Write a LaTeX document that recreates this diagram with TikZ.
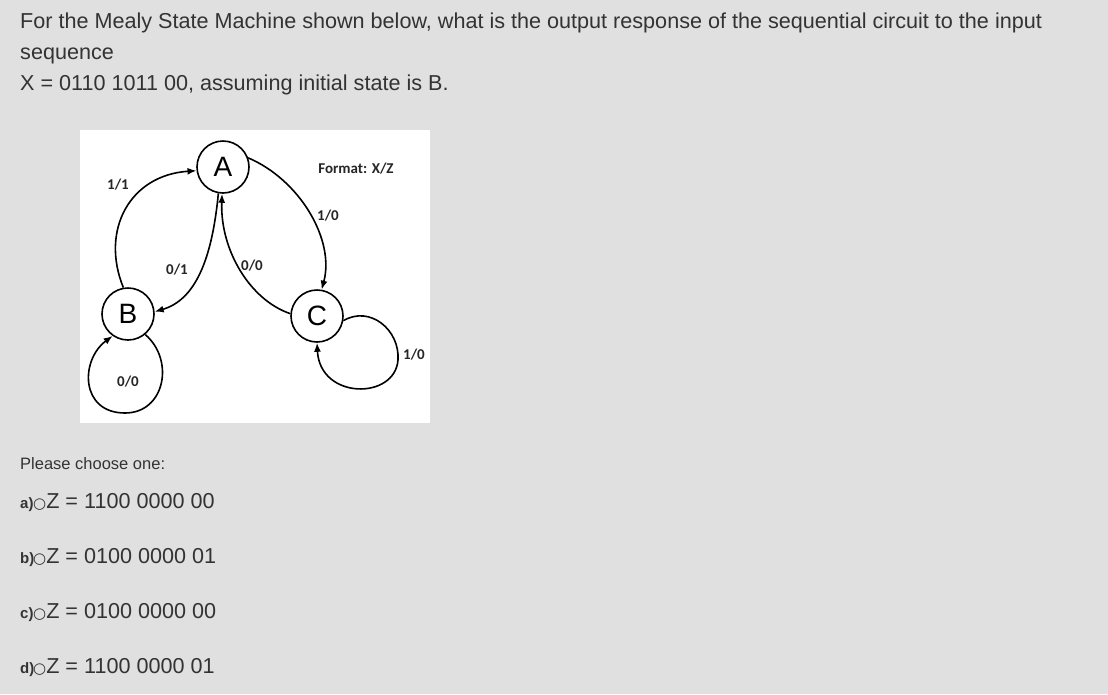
\documentclass[tikz,border=0pt]{standalone}
\usepackage{fontspec}
\setmainfont{Liberation Sans}
\newfontfamily\carlitofont{Carlito}
\newfontfamily\dejafont{DejaVu Sans}
\usetikzlibrary{arrows.meta}
\definecolor{bg}{HTML}{DFE0DF}
\definecolor{tx}{HTML}{333333}
\newcommand{\radio}{{\dejafont\fontsize{15}{16}\selectfont○}}
\begin{document}
\begin{tikzpicture}[x=1pt,y=-1pt,
  q/.style={anchor=base west,inner sep=0,text=tx,font=\fontsize{21.6}{24}\selectfont},
  opt/.style={anchor=base west,inner sep=0,text=tx,font=\fontsize{16.5}{18}\selectfont},
  ol/.style={anchor=base west,inner sep=0,text=tx,font=\bfseries\fontsize{15}{18}\selectfont},
  st/.style={draw,circle,line width=1.6pt,minimum size=52pt,inner sep=0,font=\fontsize{28}{30}\selectfont},
  lb/.style={inner sep=0,font=\carlitofont\bfseries\fontsize{15}{16}\selectfont,text=black!85},
  ed/.style={line width=1.6pt,-{Latex[length=9pt,width=7pt]}}]
\fill[bg] (0,0) rectangle (1108,694);
\useasboundingbox (0,0) rectangle (1108,694);
\node[q] (l1) at (20,28) {For the Mealy State Machine shown below, what is the output response of the sequential circuit to the input};
\node[q] (l2) at (20,59) {sequence};
\node[q] (l3) at (20,90) {X = 0110 1011 00, assuming initial state is B.};
\fill[white] (80,130) rectangle (430,423);
\node[st] (A) at (223,167) {A};
\node[st] (B) at (128,314) {B};
\node[st] (C) at (317,316) {C};
\draw[ed] (B.100) .. controls (100,230) and (130,175) .. (A.188);
\draw[ed] (A.260) .. controls (212,260) and (195,300) .. (B.5);
\draw[ed] (C.175) .. controls (250,300) and (220,250) .. (A.268);
\draw[ed] (A.20) .. controls (300,180) and (335,240) .. (C.80);
\draw[ed] (B.-50) .. controls (175,360) and (165,413) .. (125,413) .. controls (80,413) and (80,360) .. (B.-125);
\draw[ed] (C.-10) .. controls (370,305) and (400,330) .. (398,360) .. controls (395,400) and (320,400) .. (C.-90);
\node[lb] (f) at (356,169) {Format: X/Z};
\node[lb] (l11) at (118,185) {1/1};
\node[lb] (l01) at (177,270) {0/1};
\node[lb] (l00) at (252,266) {0/0};
\node[lb] (l10) at (328,216) {1/0};
\node[lb] (l10b) at (414,355) {1/0};
\node[lb] (l00b) at (128,382) {0/0};
\node[opt] (p) at (20,469) {Please choose one:};
\node[ol] (a) at (20,508) {a)};
\node[q] (ae) at (33,508) {\radio Z = 1100 0000 00};
\node[ol] (b) at (20,563) {b)};
\node[q] (be) at (33,563) {\radio Z = 0100 0000 01};
\node[ol] (c) at (20,618) {c)};
\node[q] (ce) at (33,618) {\radio Z = 0100 0000 00};
\node[ol] (d) at (20,673) {d)};
\node[q] (de) at (33,673) {\radio Z = 1100 0000 01};
\end{tikzpicture}
\end{document}
